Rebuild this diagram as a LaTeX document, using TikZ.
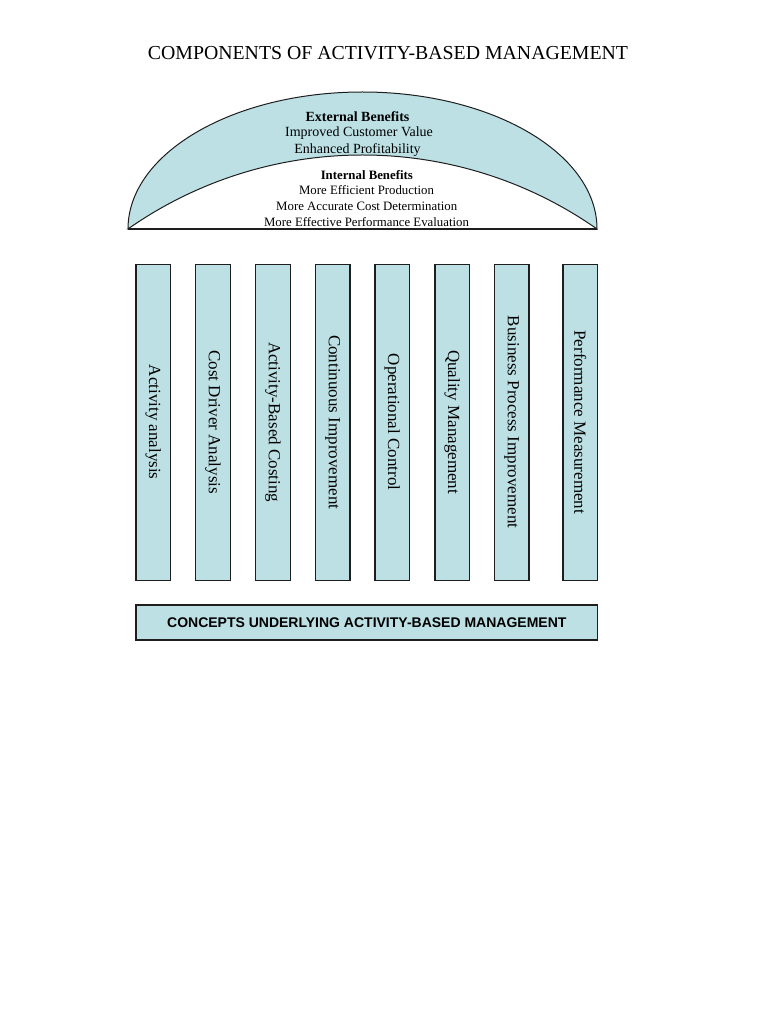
\documentclass[tikz,border=0pt]{standalone}
\usepackage{fontspec}
\setmainfont{Liberation Serif}
\newfontfamily\arialfont{Liberation Sans}
\definecolor{pillarblue}{RGB}{188,224,228}
\definecolor{edge}{RGB}{30,30,30}
\begin{document}
\begin{tikzpicture}[x=1pt,y=1pt,
  pillar/.style={draw=edge, line width=1.3pt, fill=pillarblue, rotate=-90,
    minimum width=316pt, minimum height=34.5pt, inner sep=0pt,
    font=\fontsize{17}{17}\selectfont},
  basebox/.style={draw=edge, line width=1.3pt, fill=pillarblue,
    minimum width=461.7pt, minimum height=35pt, inner sep=0pt,
    font=\arialfont\bfseries\fontsize{14}{14}\selectfont},
  extline/.style={font=\fontsize{14}{14}\selectfont, inner sep=0pt},
  intline/.style={font=\fontsize{12.8}{12.8}\selectfont, inner sep=0pt}]
\useasboundingbox (0,0) rectangle (768,-1024);
\fill[white] (0,0) rectangle (768,-1024);

% title
\node[font=\fontsize{19.8}{19.8}\selectfont, inner sep=0pt] (title) at (388,-53) {COMPONENTS OF ACTIVITY-BASED MANAGEMENT};

% arch
\coordinate (archL) at (128,-229);
\coordinate (archR) at (597,-229);
\filldraw[fill=pillarblue, draw=edge, line width=1pt]
  (archL) arc[start angle=180, end angle=0, x radius=234.5, y radius=137]
  arc[start angle=54.97, end angle=125.03, radius=408.6] -- cycle;
\draw[edge, line width=1.3pt] (archL) -- (archR);

\node[extline, font=\bfseries\fontsize{14}{14}\selectfont] (ext) at (357.5,-116.5) {External Benefits};
\node[extline] (ext1) at (359,-133) {Improved Customer Value};
\node[extline] (ext2) at (357.5,-150) {Enhanced Profitability};
\node[intline, font=\bfseries\fontsize{12.8}{12.8}\selectfont] (int) at (366.8,-175.5) {Internal Benefits};
\node[intline] (int1) at (366.5,-190.5) {More Efficient Production};
\node[intline] (int2) at (366.7,-206.5) {More Accurate Cost Determination};
\node[intline] (int3) at (366.5,-222) {More Effective Performance Evaluation};

% pillars
\node[pillar] (p1) at (153.2,-422.2) {Activity analysis};
\node[pillar] (p2) at (212.9,-422.2) {Cost Driver Analysis};
\node[pillar] (p3) at (272.9,-422.2) {Activity-Based Costing};
\node[pillar] (p4) at (332.7,-422.2) {Continuous Improvement};
\node[pillar] (p5) at (392.3,-422.2) {Operational Control};
\node[pillar] (p6) at (452.2,-422.2) {Quality Management};
\node[pillar] (p7) at (511.8,-422.2) {Business Process Improvement};
\node[pillar] (p8) at (580.2,-422.2) {Performance Measurement};

% base
\node[basebox] (base) at (366.8,-622.5) {CONCEPTS UNDERLYING ACTIVITY-BASED MANAGEMENT};
\end{tikzpicture}
\end{document}
